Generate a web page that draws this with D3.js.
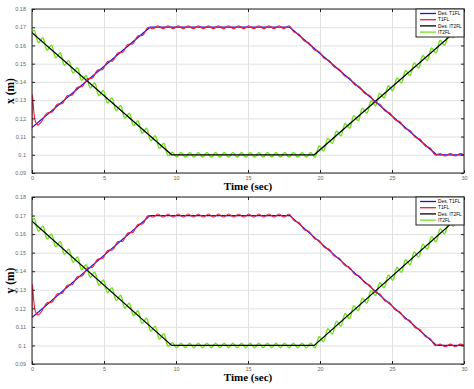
<!DOCTYPE html>
<html>
<head>
<meta charset="utf-8">
<script src="https://cdn.jsdelivr.net/npm/d3@7"></script>
<style>
  body { margin: 0; background: #fff; }
  text { font-family: "Liberation Sans", Arial, sans-serif; }
</style>
</head>
<body>
<div id="chart"></div>
<script>
// ---- data (x and y panels look the same at this size) ----
var timeTicks = [0, 5, 10, 15, 20, 25, 30];
var posTicks = [0.09, 0.10, 0.11, 0.12, 0.13, 0.14, 0.15, 0.16, 0.17, 0.18];
var posTickLabels = ["0.09", "0.1", "0.11", "0.12", "0.13", "0.14", "0.15", "0.16", "0.17", "0.18"];
var legendLabels = ["Des. T1FL", "T1FL", "Des. IT2FL", "IT2FL"];
var panelLabels = ["x (m)", "y (m)"];

// desired trajectory, type-1 controller
var desT1FL = [[0, 0.115], [8.2, 0.17], [17.9, 0.17], [28.1, 0.1], [30, 0.1]];

// desired trajectory, interval type-2 controller
var desIT2FL = [[0, 0.167], [9.7, 0.1], [19.6, 0.1], [30, 0.1718]];

// T1FL response (red)
var t1fl = [[0, 0.115], [0.03, 0.133], [0.08, 0.128], [0.15, 0.122], [0.25, 0.118], [0.4, 0.1164],
  [0.55, 0.1172], [0.7, 0.1187], [1.05, 0.1230], [1.4, 0.1234], [1.75, 0.1277], [2.1, 0.1281],
  [2.45, 0.1324], [2.8, 0.1328], [3.15, 0.1371], [3.5, 0.1375], [3.85, 0.1418], [4.2, 0.1421],
  [4.55, 0.1465], [4.9, 0.1468], [5.25, 0.1512], [5.6, 0.1515], [5.95, 0.1559], [6.3, 0.1562],
  [6.65, 0.1606], [7.0, 0.1609], [7.35, 0.1652], [7.7, 0.1656], [8.05, 0.1699], [8.4, 0.1692],
  [8.75, 0.1708], [9.1, 0.1692], [9.45, 0.1708], [9.8, 0.1692], [10.15, 0.1708], [10.5, 0.1692],
  [10.85, 0.1708], [11.2, 0.1692], [11.55, 0.1708], [11.9, 0.1692], [12.25, 0.1708], [12.6, 0.1692],
  [12.95, 0.1708], [13.3, 0.1692], [13.65, 0.1708], [14.0, 0.1692], [14.35, 0.1708], [14.7, 0.1692],
  [15.05, 0.1708], [15.4, 0.1692], [15.75, 0.1708], [16.1, 0.1692], [16.45, 0.1708], [16.8, 0.1692],
  [17.15, 0.1708], [17.5, 0.1692], [17.85, 0.1708], [18.2, 0.1673], [18.55, 0.1661], [18.9, 0.1625],
  [19.25, 0.1613], [19.6, 0.1577], [19.95, 0.1565], [20.3, 0.1529], [20.65, 0.1517], [21.0, 0.1481],
  [21.35, 0.1469], [21.7, 0.1433], [22.05, 0.1421], [22.4, 0.1385], [22.75, 0.1373], [23.1, 0.1337],
  [23.45, 0.1325], [23.8, 0.1289], [24.15, 0.1277], [24.5, 0.1241], [24.85, 0.1229], [25.2, 0.1193],
  [25.55, 0.1181], [25.9, 0.1145], [26.25, 0.1133], [26.6, 0.1097], [26.95, 0.1085], [27.3, 0.1049],
  [27.65, 0.1037], [28.0, 0.0999], [28.35, 0.1007], [28.7, 0.0993], [29.05, 0.1007], [29.4, 0.0993],
  [29.75, 0.1007], [30, 0.1]];

// IT2FL response (green)
var it2fl = [[0, 0.167], [0.15, 0.1684], [0.45, 0.1615], [0.75, 0.1642], [1.05, 0.1574], [1.35, 0.1601],
  [1.65, 0.1532], [1.95, 0.1560], [2.25, 0.1491], [2.55, 0.1518], [2.85, 0.1449], [3.15, 0.1477],
  [3.45, 0.1408], [3.75, 0.1435], [4.05, 0.1367], [4.35, 0.1394], [4.65, 0.1325], [4.95, 0.1353],
  [5.25, 0.1284], [5.55, 0.1311], [5.85, 0.1242], [6.15, 0.1270], [6.45, 0.1201], [6.75, 0.1228],
  [7.05, 0.1160], [7.35, 0.1187], [7.65, 0.1118], [7.95, 0.1146], [8.25, 0.1077], [8.55, 0.1104],
  [8.85, 0.1035], [9.15, 0.1063], [9.45, 0.0996], [9.75, 0.1014], [10.05, 0.0988], [10.35, 0.1012],
  [10.65, 0.0988], [10.95, 0.1012], [11.25, 0.0988], [11.55, 0.1012], [11.85, 0.0988], [12.15, 0.1012],
  [12.45, 0.0988], [12.75, 0.1012], [13.05, 0.0988], [13.35, 0.1012], [13.65, 0.0988], [13.95, 0.1012],
  [14.25, 0.0988], [14.55, 0.1012], [14.85, 0.0988], [15.15, 0.1012], [15.45, 0.0988], [15.75, 0.1012],
  [16.05, 0.0988], [16.35, 0.1012], [16.65, 0.0988], [16.95, 0.1012], [17.25, 0.0988], [17.55, 0.1012],
  [17.85, 0.0988], [18.15, 0.1012], [18.45, 0.0988], [18.75, 0.1012], [19.05, 0.0988], [19.35, 0.1012],
  [19.65, 0.0987], [19.95, 0.1048], [20.25, 0.1021], [20.55, 0.1090], [20.85, 0.1062], [21.15, 0.1131],
  [21.45, 0.1104], [21.75, 0.1172], [22.05, 0.1145], [22.35, 0.1214], [22.65, 0.1187], [22.95, 0.1255],
  [23.25, 0.1228], [23.55, 0.1297], [23.85, 0.1269], [24.15, 0.1338], [24.45, 0.1311], [24.75, 0.1379],
  [25.05, 0.1352], [25.35, 0.1421], [25.65, 0.1394], [25.95, 0.1462], [26.25, 0.1435], [26.55, 0.1504],
  [26.85, 0.1476], [27.15, 0.1545], [27.45, 0.1518], [27.75, 0.1586], [28.05, 0.1559], [28.35, 0.1628],
  [28.65, 0.1601], [28.95, 0.1669], [29.25, 0.1642], [29.55, 0.1711], [29.85, 0.1683], [30, 0.1718]];

// ---- layout ----
var width = 474, height = 389;
var plotLeft = 32, plotRight = 464;
var panels = [
  {label: panelLabels[0], top: 9, bottom: 173},
  {label: panelLabels[1], top: 197, bottom: 364}
];
var colors = ["#1414f0", "#ec1c34", "#000000", "#70e41c"];

var svg = d3.select("#chart").append("svg")
    .attr("width", width)
    .attr("height", height);

svg.append("rect")
    .attr("width", width).attr("height", height)
    .attr("fill", "#fff");

var xScale = d3.scaleLinear()
    .domain([0, 30])
    .range([plotLeft, plotRight]);

panels.forEach(function(p, i) {
  var yScale = d3.scaleLinear()
      .domain([0.09, 0.18])
      .range([p.bottom, p.top]);

  var g = svg.append("g");

  // grid
  g.append("g")
      .attr("transform", "translate(0," + p.bottom + ")")
      .call(d3.axisBottom(xScale).tickValues(timeTicks).tickSize(-(p.bottom - p.top)).tickFormat(""))
      .call(function(a) { a.select(".domain").remove(); a.selectAll("line").attr("stroke", "#e0e0e0"); });
  g.append("g")
      .attr("transform", "translate(" + plotLeft + ",0)")
      .call(d3.axisLeft(yScale).tickValues(posTicks).tickSize(-(plotRight - plotLeft)).tickFormat(""))
      .call(function(a) { a.select(".domain").remove(); a.selectAll("line").attr("stroke", "#e0e0e0"); });

  g.append("clipPath").attr("id", "clip" + i)
    .append("rect")
      .attr("x", plotLeft).attr("y", p.top)
      .attr("width", plotRight - plotLeft).attr("height", p.bottom - p.top);

  var straight = d3.line()
      .x(function(d) { return xScale(d[0]); })
      .y(function(d) { return yScale(d[1]); });
  var wavy = d3.line()
      .curve(d3.curveCatmullRom.alpha(0.5))
      .x(function(d) { return xScale(d[0]); })
      .y(function(d) { return yScale(d[1]); });

  var lines = g.append("g").attr("clip-path", "url(#clip" + i + ")");
  lines.append("path").datum(it2fl)
      .attr("fill", "none").attr("stroke", colors[3]).attr("stroke-width", 1.5).attr("d", wavy);
  lines.append("path").datum(desIT2FL)
      .attr("fill", "none").attr("stroke", colors[2]).attr("stroke-width", 1.2).attr("d", straight);
  lines.append("path").datum(desT1FL)
      .attr("fill", "none").attr("stroke", colors[0]).attr("stroke-width", 1.2).attr("d", straight);
  lines.append("path").datum(t1fl)
      .attr("fill", "none").attr("stroke", colors[1]).attr("stroke-width", 1.1).attr("d", wavy);

  // box
  g.append("rect")
      .attr("x", plotLeft).attr("y", p.top)
      .attr("width", plotRight - plotLeft).attr("height", p.bottom - p.top)
      .attr("fill", "none").attr("stroke", "#222").attr("stroke-width", 1);

  // ticks, inside like MATLAB
  var styleAxis = function(a) {
    a.select(".domain").remove();
    a.selectAll("line").attr("stroke", "#222");
    a.selectAll("text").style("font-size", "5.5px").attr("fill", "#666");
  };
  g.append("g")
      .attr("transform", "translate(0," + p.bottom + ")")
      .call(d3.axisBottom(xScale).tickValues(timeTicks).tickSize(-3).tickPadding(3))
      .call(styleAxis);
  g.append("g")
      .attr("transform", "translate(0," + p.top + ")")
      .call(d3.axisTop(xScale).tickValues(timeTicks).tickSize(-3).tickFormat(""))
      .call(styleAxis);
  g.append("g")
      .attr("transform", "translate(" + plotLeft + ",0)")
      .call(d3.axisLeft(yScale).tickValues(posTicks).tickSize(-3).tickPadding(6)
        .tickFormat(function(d, j) { return posTickLabels[j]; }))
      .call(styleAxis);
  g.append("g")
      .attr("transform", "translate(" + plotRight + ",0)")
      .call(d3.axisRight(yScale).tickValues(posTicks).tickSize(-3).tickFormat(""))
      .call(styleAxis);

  // labels
  g.append("text")
      .attr("transform", "translate(14," + ((p.top + p.bottom) / 2) + ") rotate(-90)")
      .attr("text-anchor", "middle")
      .style("font-family", "'Liberation Serif', serif")
      .style("font-weight", "bold")
      .style("font-size", "11.5px")
      .text(p.label);
  g.append("text")
      .attr("x", (plotLeft + plotRight) / 2)
      .attr("y", p.bottom + 16.5)
      .attr("text-anchor", "middle")
      .style("font-family", "'Liberation Serif', serif")
      .style("font-weight", "bold")
      .style("font-size", "11px")
      .text("Time (sec)");

  // legend
  var lg = g.append("g").attr("transform", "translate(" + (plotRight - 48) + "," + p.top + ")");
  lg.append("rect")
      .attr("width", 48).attr("height", 28)
      .attr("fill", "#fff").attr("stroke", "#222").attr("stroke-width", 1);
  legendLabels.forEach(function(name, j) {
    var yy = 4.5 + j * 6.2;
    lg.append("line")
        .attr("x1", 4).attr("x2", 20).attr("y1", yy).attr("y2", yy)
        .attr("stroke", colors[j]).attr("stroke-width", 1.3);
    lg.append("text")
        .attr("x", 22).attr("y", yy + 1.7)
        .style("font-size", "4.8px")
        .text(name);
  });
});
</script>
</body>
</html>
